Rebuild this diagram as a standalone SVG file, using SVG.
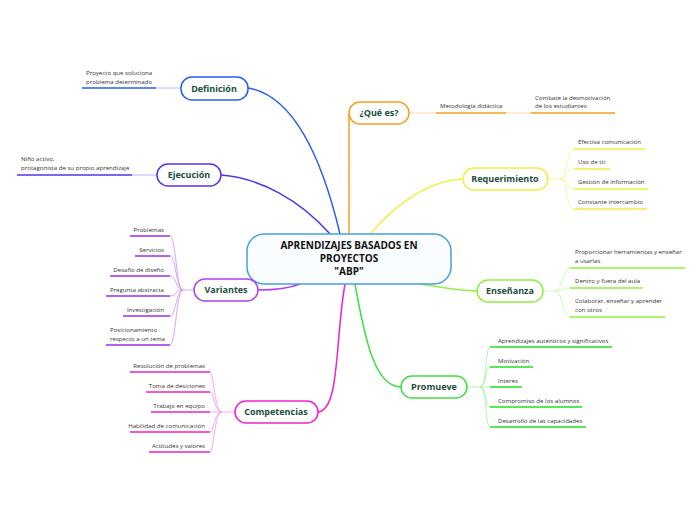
<svg xmlns="http://www.w3.org/2000/svg" width="697" height="520" viewBox="0 0 697 520">
<style>
.n{stroke-width:1.5;fill:#fff}
.nt{font-family:"Open Sans","Noto Sans",sans-serif;font-weight:bold;font-size:9px;fill:#1b4d3e;text-anchor:middle}
.lt{font-family:"Open Sans","Noto Sans",sans-serif;font-size:6.1px;fill:#333}
.r{text-anchor:end}
.c{fill:none;stroke-width:1.5}
.l{fill:none;stroke-width:1.5}
.f{fill:none;stroke-width:0.8}
</style>
<rect width="697" height="520" fill="#fff"/>
<g id="connectors">
<path class="c" stroke="#2a5fe8" d="M340,234 C320,150 290,95 248,88"/>
<path class="c" stroke="#5533ee" d="M330,234 C300,200 260,178 221,175"/>
<path class="c" stroke="#b040f0" d="M300,284 C290,288 275,290 258,290"/>
<path class="c" stroke="#f020d0" d="M345,284 C335,340 340,410 318,412"/>
<path class="c" stroke="#f5a020" d="M349,234 L349,113"/>
<path class="c" stroke="#f0f040" d="M370,234 C400,200 430,180 463,179"/>
<path class="c" stroke="#90f040" d="M420,284 C445,288 460,291 477,291"/>
<path class="c" stroke="#40e040" d="M355,284 C365,340 375,387 401,387"/>
<path class="f" stroke="#9ab8f8" d="M156,88 L181,88"/>
<path class="f" stroke="#b0a0f8" d="M132,175 L157,175"/>
<path class="f" stroke="#fcd090" d="M409,113 L436,113 M506,113 L531,113"/>
<g stroke="#c890f8" class="f">
<path d="M194,290 L183,290"/>
<path d="M183,290 C176,290 176,236 170,236"/><path d="M183,290 C176,290 176,256 170,256"/><path d="M183,290 C176,290 176,276 170,276"/><path d="M183,290 C176,290 176,296 170,296"/><path d="M183,290 C176,290 176,316 170,316"/><path d="M183,290 C176,290 176,345 170,345"/>
</g>
<g stroke="#9b30f0" class="l">
<path d="M130,236 H170 M135,256 H170 M110,276 H170 M106,296 H170 M123,316 H170 M106,345 H170"/>
</g>
<g stroke="#f890e8" class="f">
<path d="M235,412 L222,412"/>
<path d="M222,412 C214,412 214,372 210,372"/><path d="M222,412 C214,412 214,392 210,392"/><path d="M222,412 L210,412"/><path d="M222,412 C214,412 214,432 210,432"/><path d="M222,412 C214,412 214,452 210,452"/>
</g>
<g stroke="#f020d0" class="l">
<path d="M130,372 H210 M146,392 H210 M151,412 H210 M130,432 H210 M149,452 H210"/>
</g>
<g stroke="#f8f090" class="f">
<path d="M548,179 L560,179"/>
<path d="M560,179 C568,179 566,149 574,149"/><path d="M560,179 C568,179 566,169 574,169"/><path d="M560,179 C568,179 566,189 574,189"/><path d="M560,179 C568,179 566,209 574,209"/>
</g>
<g stroke="#f0f040" class="l">
<path d="M574,149 H645 M574,169 H610 M574,189 H648 M574,209 H647"/>
</g>
<g stroke="#c0f8a0" class="f">
<path d="M543,291 L555,291"/>
<path d="M555,291 C563,291 562,268 570,268"/><path d="M555,291 C563,291 562,288 570,288"/><path d="M555,291 C563,291 562,317 570,317"/>
</g>
<g stroke="#90f040" class="l">
<path d="M570,268 H685 M570,288 H643 M570,317 H665"/>
</g>
<g stroke="#a0f0a0" class="f">
<path d="M467,387 L480,387"/>
<path d="M480,387 C487,387 485,347 490,347"/><path d="M480,387 C487,387 485,367 490,367"/><path d="M480,387 L490,387"/><path d="M480,387 C487,387 485,407 490,407"/><path d="M480,387 C487,387 485,427 490,427"/>
</g>
<g stroke="#22e022" class="l">
<path d="M490,347 H612 M490,367 H533 M490,387 H522 M490,407 H582 M490,427 H586"/>
</g>
<path class="l" stroke="#2a5fe8" d="M82,88 H156"/>
<path class="l" stroke="#5533ee" d="M17,175 H132"/>
<path class="l" stroke="#f5a020" d="M436,113 H506 M531,113 H615"/>
</g>
<g id="center">
<rect x="247" y="234" width="204" height="50" rx="17" fill="#fafdff" stroke="#4a9fe0" stroke-width="1.5"/>
<text class="nt" style="font-size:10px;fill:#111" x="349" y="249">APRENDIZAJES BASADOS EN</text>
<text class="nt" style="font-size:10px;fill:#111" x="349" y="262">PROYECTOS</text>
<text class="nt" style="font-size:10px;fill:#111" x="349" y="275">"ABP"</text>
</g>
<g id="definicion"><rect class="n" x="181" y="77" width="67" height="23" rx="11" stroke="#2a5fe8"/><text class="nt" x="214" y="92">Definición</text>
<text class="lt" x="86" y="75">Proyecto que soluciona</text><text class="lt" x="86" y="84">problema determinado</text></g>
<g id="ejecucion"><rect class="n" x="157" y="164" width="64" height="22" rx="11" stroke="#5533ee"/><text class="nt" x="189" y="178">Ejecución</text>
<text class="lt" x="21" y="161">Niño activo,</text><text class="lt" x="21" y="170">protagonista de su propio aprendizaje</text></g>
<g id="variantes"><rect class="n" x="194" y="279" width="64" height="22" rx="11" stroke="#b040f0"/><text class="nt" x="226" y="293">Variantes</text>
<text class="lt r" x="164" y="232">Problemas</text><text class="lt r" x="164" y="252">Servicios</text><text class="lt r" x="164" y="272">Desafío de diseño</text><text class="lt r" x="164" y="292">Pregunta abstracta</text><text class="lt r" x="164" y="312">Investigación</text><text class="lt" x="110" y="332">Posicionamiento</text><text class="lt" x="110" y="341">respecto a un tema</text></g>
<g id="competencias"><rect class="n" x="235" y="401" width="83" height="22" rx="11" stroke="#f020d0"/><text class="nt" x="276" y="415">Competencias</text>
<text class="lt r" x="205" y="368">Resolución de problemas</text><text class="lt r" x="205" y="388">Toma de desiciones</text><text class="lt r" x="205" y="408">Trabajo en equipo</text><text class="lt r" x="205" y="428">Habilidad de comunicación</text><text class="lt r" x="205" y="448">Actitudes y valores</text></g>
<g id="quees"><rect class="n" x="349" y="102" width="60" height="22" rx="11" stroke="#f5a020"/><text class="nt" x="379" y="116">¿Qué es?</text>
<text class="lt" x="440" y="108">Metodología didáctica</text><text class="lt" x="535" y="100">Combate la desmotivación</text><text class="lt" x="535" y="108">de los estudiantes</text></g>
<g id="requerimiento"><rect class="n" x="463" y="168" width="85" height="22" rx="11" stroke="#f0f040"/><text class="nt" x="505" y="182">Requerimiento</text>
<text class="lt" x="578" y="144">Efectiva comunicación</text><text class="lt" x="578" y="164">Uso de tic</text><text class="lt" x="578" y="184">Gestión de información</text><text class="lt" x="578" y="204">Constante intercambio</text></g>
<g id="ensenanza"><rect class="n" x="477" y="280" width="66" height="22" rx="11" stroke="#90f040"/><text class="nt" x="510" y="294">Enseñanza</text>
<text class="lt" x="575" y="254">Proporcionar herramientas y enseñar</text><text class="lt" x="575" y="263">a usarlas</text><text class="lt" x="575" y="283">Dentro y fuera del aula</text><text class="lt" x="575" y="303">Colaborar, enseñar y aprender</text><text class="lt" x="575" y="312">con otros</text></g>
<g id="promueve"><rect class="n" x="401" y="376" width="66" height="22" rx="11" stroke="#40e040"/><text class="nt" x="434" y="390">Promueve</text>
<text class="lt" x="498" y="343">Aprendizajes auténticos y significativos</text><text class="lt" x="498" y="363">Motivación</text><text class="lt" x="498" y="383">Interés</text><text class="lt" x="498" y="403">Compromiso de los alumnos</text><text class="lt" x="498" y="423">Desarrollo de las capacidades</text></g>
</svg>
